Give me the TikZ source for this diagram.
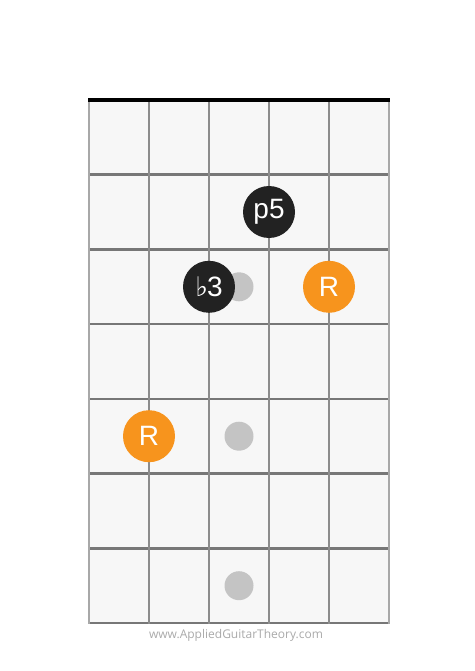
\documentclass[tikz,border=0pt]{standalone}
\usepackage{fontspec}
\setmainfont{Liberation Sans}
\newfontfamily\symfont{DejaVu Sans}
\newfontfamily\webfont{Open Sans}
\definecolor{boardfill}{HTML}{F7F7F7}
\definecolor{stringcol}{HTML}{8C8C8C}
\definecolor{edgecol}{HTML}{A8A8A8}
\definecolor{fretcol}{HTML}{777777}
\definecolor{orangedot}{HTML}{F7941D}
\definecolor{blackdot}{HTML}{222222}
\definecolor{inlaycol}{HTML}{C4C4C4}
\definecolor{webcol}{HTML}{AAAAAA}
\tikzset{
  stringline/.style={draw=stringcol, line width=1.6pt},
  edgeline/.style={draw=edgecol, line width=2.2pt},
  fretline/.style={draw=fretcol, line width=2.6pt},
  nutline/.style={draw=black, line width=4pt},
  notedot/.style={circle, minimum size=52pt, inner sep=0pt, text=white,
    font=\fontsize{28}{28}\selectfont},
  rootdot/.style={notedot, fill=orangedot},
  intdot/.style={notedot, fill=blackdot},
  inlay/.style={circle, minimum size=29pt, inner sep=0pt, fill=inlaycol}
}
\begin{document}
\begin{tikzpicture}[x=1pt,y=-1pt]
\useasboundingbox (0,0) rectangle (474,671);
\fill[white] (0,0) rectangle (474,671);
\fill[boardfill] (89,100) rectangle (389,623);
% frets
\foreach \i in {1,...,7}{
  \draw[fretline] (89,{100+\i*74.71}) -- (389,{100+\i*74.71});
}
% strings
\foreach \i in {1,...,4}{
  \draw[stringline] ({89+60*\i},100) -- ({89+60*\i},624);
}
\draw[edgeline] (89,100) -- (89,624);
\draw[edgeline] (389,100) -- (389,624);
% nut
\draw[nutline] (88,100) -- (390,100);
% inlays
\node[inlay] (in3) at (239,286.8) {};
\node[inlay] (in5) at (239,436.2) {};
\node[inlay] (in7) at (239,585.7) {};
% notes
\node[intdot] (p5) at (269,212) {p5};
\node[intdot] (b3) at (209,286.8) {{\symfont\fontsize{27}{27}\selectfont ♭}\kern-1pt 3};
\node[rootdot] (r1) at (329,286.8) {R};
\node[rootdot] (r2) at (149,436.2) {R};
% watermark
\node[text=webcol, font=\webfont\fontsize{12}{12}\selectfont] (web) at (236,635) {www.AppliedGuitarTheory.com};
\end{tikzpicture}
\end{document}
